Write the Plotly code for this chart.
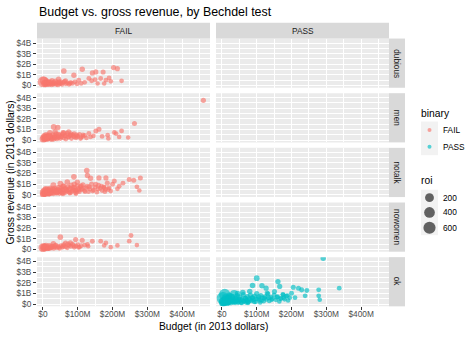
import math
import plotly.graph_objects as go

# ---------------- data (budget in $M, gross in $B) ----------------
dubious_fail_budget = [1, 3, 5, 7, 9, 11, 13, 15, 17, 19,
                       21, 23, 25, 27, 30, 32, 35, 38, 40, 43,
                       46, 48, 52, 55, 58, 62, 66, 70, 75, 80,
                       85, 92, 98, 60, 113, 89, 142, 152, 173, 203,
                       214, 226, 132, 166, 181, 190, 157, 176, 103, 45,
                       120, 140, 195, 110, 150,
                       4, 10, 18, 26, 36, 50, 65, 78]
dubious_fail_gross = [0.35, 0.45, 0.25, 0.05, 0.18, 0.3, 0.1, 0.22, 0.08, 0.28,
                      0.15, 0.35, 0.06, 0.2, 0.12, 0.3, 0.18, 0.1, 0.25, 0.05,
                      0.32, 0.15, 0.22, 0.1, 0.28, 0.38, 0.16, 0.26, 0.12, 0.3,
                      0.2, 0.35, 0.15, 1.37, 1.53, 0.97, 1.19, 1.28, 1.28, 1.69,
                      1.59, 0.44, 0.66, 0.66, 0.5, 0.72, 0.19, 0.19, 0.5, 0.6,
                      0.3, 0.45, 0.4, 0.2, 0.55,
                      0.2, 0.4, 0.3, 0.45, 0.4, 0.35, 0.45, 0.2]
dubious_fail_roi = [450, 150, 15, 3, 8, 12, 4, 6, 2, 9,
                    3, 10, 2, 5, 3, 7, 4, 2, 5, 1,
                    6, 3, 4, 2, 4, 5, 2, 3, 2, 3,
                    2, 3, 1, 18, 12, 10, 7, 7, 6, 7,
                    6, 2, 4, 3, 2, 3, 1, 1, 4, 12,
                    2, 3, 2, 2, 3,
                    40, 30, 15, 14, 10, 6, 6, 2]

men_fail_budget = [1, 2, 3, 4, 5, 6, 7, 8, 9, 10,
                   11, 12, 13, 14, 15, 16, 18, 20, 22, 24,
                   26, 28, 30, 32, 34, 36, 38, 40, 42, 45,
                   48, 50, 53, 56, 60, 63, 66, 70, 74, 78,
                   82, 86, 90, 95, 100, 105, 110, 115, 461, 263,
                   31, 43, 161, 152, 205, 210, 226, 219, 245, 186,
                   188, 132, 137, 74, 79, 99, 125, 145, 170, 115,
                   90, 60, 20, 35,
                   5, 12, 19, 27, 35, 44, 52, 58, 65, 72,
                   80, 88, 97, 108, 120]
men_fail_gross = [0.1, 0.25, 0.05, 0.4, 0.15, 0.3, 0.08, 0.2, 0.5, 0.12,
                  0.35, 0.06, 0.22, 0.45, 0.1, 0.28, 0.18, 0.38, 0.08, 0.3,
                  0.15, 0.5, 0.25, 0.1, 0.42, 0.2, 0.6, 0.12, 0.35, 0.22,
                  0.48, 0.15, 0.3, 0.55, 0.2, 0.4, 0.1, 0.65, 0.28, 0.45,
                  0.15, 0.5, 0.3, 0.2, 0.4, 0.55, 0.25, 0.35, 3.75, 1.56,
                  1.25, 1.19, 1.03, 0.87, 0.72, 0.62, 0.87, 0.31, 0.25, 0.47,
                  0.16, 0.62, 0.31, 0.78, 0.47, 0.31, 0.2, 0.4, 0.35, 0.5,
                  0.6, 0.65, 0.7, 0.8,
                  0.2, 0.3, 0.45, 0.05, 0.3, 0.55, 0.35, 0.7, 0.45, 0.3,
                  0.6, 0.4, 0.5, 0.15, 0.45]
men_fail_roi = [90, 40, 12, 25, 6, 10, 3, 5, 18, 4,
                8, 2, 5, 9, 2, 6, 4, 7, 2, 5,
                3, 8, 4, 2, 6, 3, 8, 2, 5, 3,
                5, 2, 3, 5, 2, 3, 1, 5, 2, 3,
                1, 3, 2, 1, 2, 3, 1, 2, 7, 5,
                20, 14, 6, 5, 3, 2, 3, 1, 1, 2,
                1, 4, 2, 9, 5, 2, 1, 2, 2, 3,
                5, 10, 15, 12,
                30, 20, 18, 1, 7, 10, 6, 10, 6, 4,
                6, 4, 4, 1, 3]

notalk_fail_budget = [1, 2, 3, 4, 5, 6, 7, 8, 9, 10,
                      11, 12, 13, 14, 15, 16, 17, 18, 19, 20,
                      22, 24, 26, 28, 30, 32, 34, 36, 38, 40,
                      42, 44, 46, 48, 50, 52, 54, 56, 58, 60,
                      63, 66, 69, 72, 75, 78, 81, 84, 87, 90,
                      93, 96, 99, 102, 105, 108, 111, 115, 119, 123,
                      127, 131, 135, 140, 145, 150, 155, 160, 165, 170,
                      175, 180, 185, 190, 195, 30, 50, 70, 90, 110,
                      126, 128, 89, 137, 161, 181, 99, 248, 261, 280,
                      270, 277, 219, 214, 200, 176, 152, 60, 230, 205,
                      5, 12, 18, 25, 33, 41, 47, 55, 62, 68,
                      74, 80, 86, 92, 98, 104, 113, 121, 133, 143,
                      158, 168, 178, 188, 8, 20, 37, 58, 77, 95]
notalk_fail_gross = [0.05, 0.2, 0.1, 0.35, 0.08, 0.25, 0.15, 0.4, 0.05, 0.3,
                     0.12, 0.22, 0.5, 0.08, 0.35, 0.18, 0.28, 0.1, 0.45, 0.2,
                     0.15, 0.38, 0.25, 0.55, 0.1, 0.3, 0.6, 0.2, 0.42, 0.15,
                     0.5, 0.28, 0.7, 0.12, 0.35, 0.6, 0.22, 0.48, 0.8, 0.3,
                     0.18, 0.55, 0.4, 0.75, 0.25, 0.62, 0.9, 0.35, 0.5, 0.7,
                     0.2, 0.45, 0.85, 0.6, 0.3, 0.75, 0.5, 0.95, 0.4, 0.65,
                     0.8, 0.3, 0.55, 1.0, 0.45, 0.7, 0.25, 0.9, 0.6, 0.4,
                     0.75, 0.5, 1.1, 0.65, 0.35, 0.9, 1.05, 1.2, 1.0, 0.85,
                     2.28, 1.81, 1.69, 1.56, 1.59, 1.59, 1.19, 1.44, 1.37, 1.59,
                     0.75, 0.41, 0.81, 0.56, 1.0, 0.66, 1.0, 0.81, 1.1, 1.3,
                     0.15, 0.3, 0.05, 0.2, 0.45, 0.25, 0.4, 0.15, 0.55, 0.35,
                     0.5, 0.2, 0.65, 0.4, 0.3, 0.45, 0.6, 0.3, 0.75, 0.35,
                     0.55, 0.8, 0.3, 0.5, 0.55, 0.6, 0.35, 0.1, 0.15, 0.1]
notalk_fail_roi = [60, 110, 35, 80, 10, 30, 15, 45, 4, 22,
                   8, 14, 30, 4, 18, 9, 13, 5, 20, 8,
                   6, 14, 8, 18, 3, 8, 16, 5, 10, 3,
                   11, 6, 14, 2, 6, 11, 4, 8, 13, 4,
                   2, 8, 5, 9, 3, 7, 10, 4, 5, 7,
                   2, 4, 8, 5, 2, 6, 4, 7, 3, 5,
                   6, 2, 4, 7, 3, 4, 1, 5, 3, 2,
                   4, 2, 5, 3, 1, 28, 20, 16, 10, 7,
                   17, 13, 18, 10, 9, 8, 11, 5, 5, 5,
                   2, 1, 3, 2, 4, 3, 6, 13, 4, 5,
                   8, 10, 2, 6, 10, 5, 7, 3, 8, 5,
                   6, 2, 7, 4, 3, 4, 5, 2, 5, 2,
                   3, 4, 2, 2, 30, 15, 6, 2, 2, 1]

nowomen_fail_budget = [0.5, 1, 2, 4, 6, 8, 10, 12, 14, 16,
                       18, 20, 22, 25, 28, 31, 34, 37, 40, 44,
                       48, 52, 56, 60, 65, 70, 75, 80, 85, 90,
                       95, 100, 105, 110, 120, 130, 50, 253, 248, 270,
                       214, 195, 176, 181, 166, 142, 113, 94, 79, 128,
                       30, 65,
                       3, 9, 15, 24, 35, 46, 58, 72, 88, 102]
nowomen_fail_gross = [0.15, 0.05, 0.2, 0.1, 0.3, 0.08, 0.18, 0.05, 0.25, 0.12,
                      0.35, 0.08, 0.2, 0.15, 0.3, 0.1, 0.22, 0.4, 0.15, 0.28,
                      0.1, 0.35, 0.2, 0.45, 0.25, 0.15, 0.38, 0.28, 0.5, 0.2,
                      0.32, 0.45, 0.22, 0.35, 0.4, 0.3, 1.16, 1.31, 0.78, 0.41,
                      0.38, 0.22, 0.38, 0.62, 0.78, 0.78, 0.87, 0.94, 0.62, 0.47,
                      0.55, 0.6,
                      0.25, 0.35, 0.1, 0.3, 0.35, 0.2, 0.3, 0.5, 0.35, 0.2]
nowomen_fail_roi = [230, 30, 60, 12, 20, 4, 9, 2, 8, 4,
                    10, 2, 5, 3, 6, 2, 4, 7, 2, 4,
                    1, 5, 2, 5, 3, 1, 4, 2, 5, 1,
                    2, 3, 1, 2, 2, 1, 16, 4, 2, 1,
                    1, 1, 1, 2, 3, 4, 6, 7, 6, 2,
                    12, 7,
                    60, 30, 5, 10, 8, 3, 4, 6, 3, 1]

ok_pass_budget = [3, 8, 15, 25, 35, 5, 1, 2, 4, 6,
                  7, 9, 10, 11, 12, 13, 14, 16, 17, 18,
                  19, 20, 22, 24, 26, 28, 30, 32, 34, 36,
                  38, 40, 42, 44, 46, 48, 50, 52, 55, 58,
                  61, 64, 67, 70, 73, 76, 79, 82, 85, 88,
                  91, 94, 97, 100, 104, 108, 112, 116, 120, 124,
                  128, 132, 136, 140, 145, 150, 155, 160, 165, 170,
                  175, 180, 185, 190, 195, 60, 80, 130, 45, 70,
                  291, 337, 100, 161, 88, 115, 127, 166, 205, 220,
                  229, 244, 239, 278, 278, 281, 200, 176, 151, 210,
                  5, 12, 18, 27, 33, 41, 47, 53, 62, 68,
                  74, 81, 87, 93, 99, 106, 114, 122, 134, 143,
                  158, 168, 178, 188, 10, 21, 39, 57, 75, 110]
ok_pass_gross = [0.55, 0.9, 0.35, 0.6, 0.95, 0.2, 0.1, 0.3, 0.05, 0.15,
                 0.4, 0.08, 0.25, 0.5, 0.12, 0.3, 0.2, 0.45, 0.1, 0.35,
                 0.6, 0.15, 0.28, 0.5, 0.1, 0.38, 0.7, 0.2, 0.45, 0.3,
                 0.12, 0.55, 0.35, 0.8, 0.2, 0.48, 0.3, 0.65, 0.15, 0.42,
                 0.9, 0.25, 0.55, 0.35, 0.7, 0.18, 0.5, 0.85, 0.3, 0.6,
                 0.4, 0.75, 0.22, 1.0, 0.5, 0.35, 0.8, 0.6, 0.28, 0.7,
                 0.45, 0.95, 0.3, 0.65, 0.5, 0.85, 0.4, 0.7, 0.25, 0.55,
                 0.9, 0.45, 0.75, 0.35, 0.6, 1.1, 1.2, 1.05, 1.0, 0.15,
                 4.31, 1.5, 2.44, 2.12, 1.75, 1.72, 1.5, 1.66, 1.59, 1.5,
                 1.34, 1.28, 0.78, 1.34, 0.78, 0.41, 1.03, 0.87, 1.19, 0.6,
                 0.1, 0.2, 0.05, 0.3, 0.2, 0.4, 0.15, 0.45, 0.3, 0.55,
                 0.25, 0.4, 0.6, 0.2, 0.5, 0.7, 0.35, 0.55, 0.6, 0.4,
                 0.65, 0.5, 0.6, 0.8, 0.6, 0.8, 0.25, 0.1, 0.12, 0.15]
ok_pass_roi = [650, 480, 300, 200, 150, 250, 40, 70, 20, 30,
               35, 8, 18, 30, 6, 15, 9, 18, 4, 12,
               20, 5, 8, 14, 3, 9, 16, 4, 9, 6,
               2, 9, 6, 12, 3, 7, 4, 9, 2, 5,
               10, 3, 6, 4, 7, 2, 5, 8, 3, 5,
               3, 6, 2, 8, 4, 2, 5, 4, 2, 4,
               3, 5, 2, 4, 3, 4, 2, 3, 1, 2,
               4, 2, 3, 1, 2, 15, 12, 6, 18, 2,
               12, 3, 20, 10, 16, 12, 9, 8, 6, 5,
               5, 4, 2, 4, 2, 1, 4, 4, 6, 2,
               15, 12, 2, 10, 5, 9, 3, 8, 5, 7,
               3, 5, 6, 2, 4, 6, 3, 4, 4, 2,
               4, 3, 3, 4, 60, 35, 5, 1, 1, 1]

row_labels = ["dubious", "men", "notalk", "nowomen", "ok"]
col_labels = ["FAIL", "PASS"]
x_tick_vals = [0, 100, 200, 300, 400]
x_tick_text = ["$0", "$100M", "$200M", "$300M", "$400M"]
y_tick_vals = [0, 1, 2, 3, 4]
y_tick_text = ["$0", "$1B", "$2B", "$3B", "$4B"]
roi_breaks = [200, 400, 600]

panels = {
    ("dubious", "FAIL"): (dubious_fail_budget, dubious_fail_gross, dubious_fail_roi),
    ("men", "FAIL"): (men_fail_budget, men_fail_gross, men_fail_roi),
    ("notalk", "FAIL"): (notalk_fail_budget, notalk_fail_gross, notalk_fail_roi),
    ("nowomen", "FAIL"): (nowomen_fail_budget, nowomen_fail_gross, nowomen_fail_roi),
    ("ok", "PASS"): (ok_pass_budget, ok_pass_gross, ok_pass_roi),
}

# ---------------- styling ----------------
W, H = 474, 338
FONT = "Liberation Sans"
COLORS = {"FAIL": "#F8766D", "PASS": "#00BFC4"}
ALPHA = 0.65
ROI_MAX = 700.0


def diam(r):
    return 4.3 + 8.5 * math.sqrt(max(r, 0) / ROI_MAX)


def px(x):
    return x / W


def py(y):
    return 1 - y / H


cols_px = [(37, 210), (216, 389)]
rows_px = [(38, 87.8), (93.3, 143.1), (148.6, 198.4), (203.9, 253.7), (259.2, 309)]
X_RANGE = [-17, 480]
Y_RANGE = [-0.21, 4.42]
TICKFONT = dict(family=FONT, size=8.3, color="#4D4D4D")

fig = go.Figure()
layout = dict(
    width=W, height=H, margin=dict(l=0, r=0, t=0, b=0),
    paper_bgcolor="white", plot_bgcolor="rgba(0,0,0,0)",
    showlegend=False, font=dict(family=FONT, size=9, color="#4D4D4D"),
)
shapes = []
annotations = []

for r, rname in enumerate(row_labels):
    y0, y1 = rows_px[r]
    for c, cname in enumerate(col_labels):
        x0, x1 = cols_px[c]
        idx = r * 2 + c + 1
        sfx = "" if idx == 1 else str(idx)
        xa = dict(domain=[px(x0), px(x1)], range=X_RANGE, anchor="y" + sfx,
                  tickmode="array", tickvals=x_tick_vals, ticktext=x_tick_text,
                  showgrid=True, gridcolor="white", gridwidth=1.1,
                  minor=dict(tickmode="array", tickvals=[50, 150, 250, 350, 450],
                             showgrid=True, gridcolor="white", gridwidth=0.5),
                  zeroline=False, showline=False, fixedrange=True)
        ya = dict(domain=[py(y1), py(y0)], range=Y_RANGE, anchor="x" + sfx,
                  tickmode="array", tickvals=y_tick_vals, ticktext=y_tick_text,
                  showgrid=True, gridcolor="white", gridwidth=1.1,
                  minor=dict(tickmode="array", tickvals=[0.5, 1.5, 2.5, 3.5],
                             showgrid=True, gridcolor="white", gridwidth=0.5),
                  zeroline=False, showline=False, fixedrange=True)
        if r == len(row_labels) - 1:
            xa.update(ticks="outside", ticklen=3, tickwidth=1, tickcolor="#333333",
                      showticklabels=True, tickfont=TICKFONT, ticklabelstandoff=-3)
        else:
            xa.update(ticks="", showticklabels=False)
        if c == 0:
            ya.update(ticks="outside", ticklen=3, tickwidth=1, tickcolor="#333333",
                      showticklabels=True, tickfont=TICKFONT)
        else:
            ya.update(ticks="", showticklabels=False)
        layout["xaxis" + sfx] = xa
        layout["yaxis" + sfx] = ya
        shapes.append(dict(type="rect", xref="paper", yref="paper",
                           x0=px(x0), x1=px(x1), y0=py(y1), y1=py(y0),
                           fillcolor="#EBEBEB", line=dict(width=0), layer="below"))
        data = panels.get((rname, cname))
        if data is not None:
            b, g, roi = data
            fig.add_trace(go.Scatter(
                x=b, y=g, mode="markers", xaxis="x" + sfx, yaxis="y" + sfx,
                marker=dict(size=[diam(v) for v in roi], color=COLORS[cname],
                            opacity=ALPHA, line=dict(width=0)),
                hoverinfo="skip", showlegend=False))
        else:
            fig.add_trace(go.Scatter(x=[None], y=[None], mode="markers",
                                     xaxis="x" + sfx, yaxis="y" + sfx,
                                     hoverinfo="skip", showlegend=False))

# strips
STRIP = "#D9D9D9"
for c, cname in enumerate(col_labels):
    x0, x1 = cols_px[c]
    shapes.append(dict(type="rect", xref="paper", yref="paper", x0=px(x0), x1=px(x1),
                       y0=py(38), y1=py(22), fillcolor=STRIP, line=dict(width=0), layer="below"))
    annotations.append(dict(text=cname, x=px((x0 + x1) / 2), y=py(30), xref="paper", yref="paper",
                            showarrow=False, xanchor="center", yanchor="middle",
                            font=dict(family=FONT, size=8.3, color="#1A1A1A")))
for r, rname in enumerate(row_labels):
    y0, y1 = rows_px[r]
    shapes.append(dict(type="rect", xref="paper", yref="paper", x0=px(389), x1=px(405),
                       y0=py(y1), y1=py(y0), fillcolor=STRIP, line=dict(width=0), layer="below"))
    annotations.append(dict(text=rname, x=px(397), y=py((y0 + y1) / 2), xref="paper", yref="paper",
                            showarrow=False, xanchor="center", yanchor="middle", textangle=90,
                            font=dict(family=FONT, size=8.3, color="#1A1A1A")))

# titles
annotations.append(dict(text="Budget vs. gross revenue, by Bechdel test", x=px(37), y=py(11),
                        xref="paper", yref="paper", showarrow=False, xanchor="left", yanchor="middle",
                        font=dict(family=FONT, size=12.4, color="black")))
annotations.append(dict(text="Budget (in 2013 dollars)", x=px(213), y=py(329),
                        xref="paper", yref="paper", showarrow=False, xanchor="center", yanchor="middle",
                        font=dict(family=FONT, size=10.3, color="black")))
annotations.append(dict(text="Gross revenue (in 2013 dollars)", x=px(10), y=py(173.5),
                        xref="paper", yref="paper", showarrow=False, xanchor="center", yanchor="middle",
                        textangle=-90, font=dict(family=FONT, size=10.3, color="black")))

# legend (drawn on an overlay axis in pixel units)
KEY_BG = "#F2F2F2"
shapes.append(dict(type="rect", xref="paper", yref="paper", x0=px(421), x1=px(438),
                   y0=py(156), y1=py(122), fillcolor=KEY_BG, line=dict(width=0), layer="below"))
shapes.append(dict(type="rect", xref="paper", yref="paper", x0=px(421), x1=px(438),
                   y0=py(237), y1=py(191), fillcolor=KEY_BG, line=dict(width=0), layer="below"))
layout["xaxis11"] = dict(domain=[0, 1], range=[0, W], anchor="y11", visible=False, fixedrange=True)
layout["yaxis11"] = dict(domain=[0, 1], range=[H, 0], anchor="x11", visible=False, fixedrange=True)

bin_y = [130.5, 147.5]
fig.add_trace(go.Scatter(x=[429.5, 429.5], y=bin_y, mode="markers", xaxis="x11", yaxis="y11",
                         marker=dict(size=4, color=[COLORS[k] for k in col_labels], opacity=ALPHA,
                                     line=dict(width=0)),
                         hoverinfo="skip", showlegend=False, cliponaxis=False))
roi_y = [199, 214, 229.5]
fig.add_trace(go.Scatter(x=[429.5] * 3, y=roi_y, mode="markers", xaxis="x11", yaxis="y11",
                         marker=dict(size=[diam(v) for v in roi_breaks], color="black", opacity=0.6,
                                     line=dict(width=0)),
                         hoverinfo="skip", showlegend=False, cliponaxis=False))

annotations.append(dict(text="binary", x=px(419), y=py(114), xref="paper", yref="paper",
                        showarrow=False, xanchor="left", yanchor="middle",
                        font=dict(family=FONT, size=10.3, color="black")))
for lab, yy in zip(col_labels, bin_y):
    annotations.append(dict(text=lab, x=px(441), y=py(yy), xref="paper", yref="paper",
                            showarrow=False, xanchor="left", yanchor="middle",
                            font=dict(family=FONT, size=8.3, color="black")))
annotations.append(dict(text="roi", x=px(419), y=py(182), xref="paper", yref="paper",
                        showarrow=False, xanchor="left", yanchor="middle",
                        font=dict(family=FONT, size=10.3, color="black")))
for v, yy in zip(roi_breaks, roi_y):
    annotations.append(dict(text=str(v), x=px(441), y=py(yy), xref="paper", yref="paper",
                            showarrow=False, xanchor="left", yanchor="middle",
                            font=dict(family=FONT, size=8.3, color="black")))

layout["shapes"] = shapes
layout["annotations"] = annotations
fig.update_layout(**layout)
fig.write_html("out.html")
